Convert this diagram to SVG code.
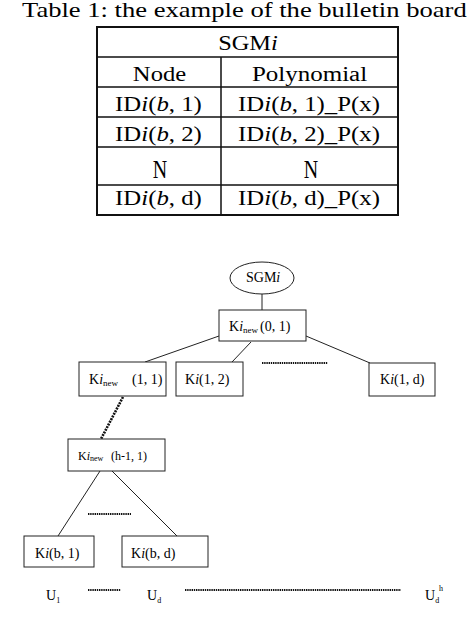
<svg xmlns="http://www.w3.org/2000/svg" width="474" height="618" viewBox="0 0 474 618">
<style>
text{font-family:"Liberation Serif","Times New Roman",serif;fill:#000}
.tb{font-size:20px}
.tn{font-size:14px}
.it{font-style:italic}
.box{fill:#fff;stroke:#222;stroke-width:1}
.ln{stroke:#222;stroke-width:1;fill:none}
.dot{stroke:#111;stroke-width:2;stroke-dasharray:1.4 0.8;fill:none}
.dotk{stroke:#111;stroke-width:2.6;stroke-dasharray:2 1;fill:none}
.tbl{fill:none;stroke:#111;stroke-width:2}
.tbi{fill:none;stroke:#111;stroke-width:1.5}
</style>
<text class="tb" transform="translate(22,17) scale(1.33,1)">Table 1: the example of the bulletin board</text>
<g id="table">
<rect class="tbl" x="97" y="27" width="301" height="188"/>
<path class="tbi" d="M97 57H398M97 87H398M97 117H398M97 147H398M97 185H398M221 57V215"/>
<text class="tb" text-anchor="middle" transform="translate(248,50) scale(1.22,1)">SGM<tspan class="it">i</tspan></text>
<text class="tb" text-anchor="middle" transform="translate(159.5,81) scale(1.23,1)">Node</text>
<text class="tb" text-anchor="middle" transform="translate(309.5,81) scale(1.25,1)">Polynomial</text>
<text class="tb" text-anchor="middle" transform="translate(158.5,111) scale(1.24,1)">ID<tspan class="it">i</tspan>(<tspan class="it">b</tspan>, 1)</text>
<text class="tb" text-anchor="middle" transform="translate(309,111) scale(1.24,1)">ID<tspan class="it">i</tspan>(<tspan class="it">b</tspan>, 1)_P(x)</text>
<text class="tb" text-anchor="middle" transform="translate(158.5,141) scale(1.24,1)">ID<tspan class="it">i</tspan>(<tspan class="it">b</tspan>, 2)</text>
<text class="tb" text-anchor="middle" transform="translate(309,141) scale(1.24,1)">ID<tspan class="it">i</tspan>(<tspan class="it">b</tspan>, 2)_P(x)</text>
<text text-anchor="middle" style="font-size:25px" transform="translate(160,178) scale(0.8,1)">N</text>
<text text-anchor="middle" style="font-size:25px" transform="translate(311,178) scale(0.8,1)">N</text>
<text class="tb" text-anchor="middle" transform="translate(158.5,205) scale(1.24,1)">ID<tspan class="it">i</tspan>(<tspan class="it">b</tspan>, d)</text>
<text class="tb" text-anchor="middle" transform="translate(309,205) scale(1.24,1)">ID<tspan class="it">i</tspan>(<tspan class="it">b</tspan>, d)_P(x)</text>
</g>
<g id="connectors">
<path class="ln" d="M262 294V310"/>
<path class="ln" d="M219 336L145 362"/>
<path class="ln" d="M251 342L232 362"/>
<path class="ln" d="M306 336L370 363"/>
<path class="dotk" d="M123 397L101 439"/>
<path class="ln" d="M100 471L58 536"/>
<path class="ln" d="M112 471L177 536"/>
<path class="dot" d="M262 363H328"/>
<path class="dot" d="M88 514H131"/>
<path class="dot" d="M88 590H121"/>
<path class="dot" d="M185 590H401"/>
</g>
<g id="sgmi">
<ellipse class="box" cx="262" cy="278" rx="32" ry="16"/>
<text class="tn" x="246" y="282">SGM<tspan class="it">i</tspan></text>
</g>
<g id="k01">
<rect class="box" x="219" y="310" width="87" height="31"/>
<text class="tn" x="229" y="331">K<tspan class="it">i</tspan><tspan font-size="9" dy="2">new</tspan><tspan x="260" dy="-2">(0, 1)</tspan></text>
</g>
<g id="k11">
<rect class="box" x="79" y="362" width="87" height="34"/>
<text class="tn" x="89" y="384">K<tspan class="it">i</tspan><tspan font-size="9" dy="2">new</tspan><tspan x="132" dy="-2">(1, 1)</tspan></text>
</g>
<g id="k12">
<rect class="box" x="176" y="362" width="67" height="34"/>
<text class="tn" x="185" y="384">K<tspan class="it">i</tspan>(1, 2)</text>
</g>
<g id="k1d">
<rect class="box" x="369" y="363" width="66" height="33"/>
<text class="tn" x="380" y="384">K<tspan class="it">i</tspan>(1, d)</text>
</g>
<g id="kh1">
<rect class="box" x="68" y="439" width="97" height="32"/>
<text x="78" y="460" style="font-size:12px">K<tspan class="it">i</tspan><tspan font-size="8" dy="1">new</tspan><tspan x="111" dy="-1">(h-1, 1)</tspan></text>
</g>
<g id="kb1">
<rect class="box" x="24" y="536" width="70" height="31"/>
<text class="tn" x="35" y="558">K<tspan class="it">i</tspan>(b, 1)</text>
</g>
<g id="kbd">
<rect class="box" x="122" y="536" width="86" height="31"/>
<text class="tn" x="131" y="558">K<tspan class="it">i</tspan>(b, d)</text>
</g>
<g id="users">
<text x="46" y="600" style="font-size:14px">U<tspan font-size="8" dy="3">1</tspan></text>
<text x="147" y="600" style="font-size:14px">U<tspan font-size="8" dy="3">d</tspan></text>
<text x="425" y="600" style="font-size:14px">U<tspan font-size="8" dy="3">d</tspan><tspan font-size="8" x="439" dy="-12">h</tspan></text>
</g>
</svg>
